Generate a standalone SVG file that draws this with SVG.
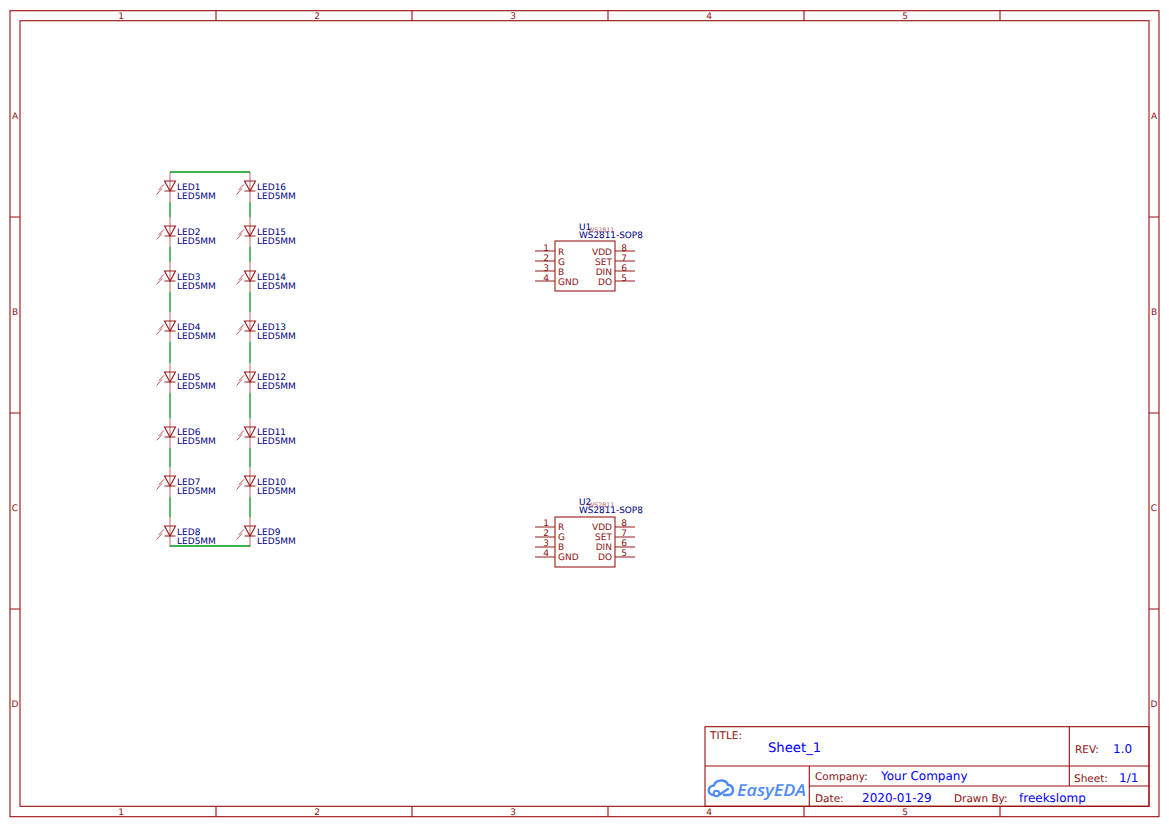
<svg xmlns="http://www.w3.org/2000/svg" width="1169" height="827" viewBox="0 0 1169 827">
<style>
text{font-family:"DejaVu Sans",sans-serif;font-size:9px;text-rendering:geometricPrecision}
.f{fill:none;stroke:#990f0f;stroke-width:1.100}
.s{fill:none;stroke:#991a1a;stroke-width:1.100}
.p{fill:none;stroke:#991a1a;stroke-width:1.100;opacity:.6}
.a{fill:none;stroke:#991a1a;stroke-width:.9;opacity:.85}
.w{fill:none;stroke:#00991a;stroke-width:1.300}
.m{fill:#8b1010}
.n{fill:#000080}
.x{fill:#8b1010;font-size:6.300px;opacity:.7}
.v{fill:#000080;font-size:8.900px}
.b{fill:#0000ff;font-size:12px}
.t{fill:#8b1010;font-size:10.500px}
.e{text-anchor:end}
.c{text-anchor:middle}
</style>
<defs>
<g id="led">
<path class="p" d="M0-15V15"/>
<path class="s" d="M-5.500-6H5.500L0 4ZM-5.500 4H5.500"/>
<path class="a" d="M-13.300 7.300-8 1.500M-11.200 2.800-6-2.700"/>
</g>
<g id="ws">
<rect class="s" x="555" y="241" width="60" height="50"/>
<path class="s" d="M535 251H555M535 261H555M535 271H555M535 281H555M615 251H635M615 261H635M615 271H635M615 281H635"/>
</g>
</defs>

<g id="frame">
<rect class="f" x="10" y="10.700" width="1149" height="806"/>
<rect class="f" x="20" y="20.700" width="1129" height="785.600"/>
<path class="f" d="M216 10.700V20.700M412 10.700V20.700M608 10.700V20.700M804 10.700V20.700M1000 10.700V20.700M216 806.300V816.700M412 806.300V816.700M608 806.300V816.700M804 806.300V816.700M1000 806.300V816.700M10 217H20M10 413H20M10 609H20M1149 217H1159M1149 413H1159M1149 609H1159"/>
<g class="m">
<text class="c" x="121" y="19">1</text><text class="c" x="317" y="19">2</text><text class="c" x="513" y="19">3</text><text class="c" x="709" y="19">4</text><text class="c" x="905" y="19">5</text>
<text class="c" x="121" y="815">1</text><text class="c" x="317" y="815">2</text><text class="c" x="513" y="815">3</text><text class="c" x="709" y="815">4</text><text class="c" x="905" y="815">5</text>
<text class="c" x="15" y="119">A</text><text class="c" x="15" y="315">B</text><text class="c" x="15" y="511">C</text><text class="c" x="15" y="707">D</text>
<text class="c" x="1154" y="119">A</text><text class="c" x="1154" y="315">B</text><text class="c" x="1154" y="511">C</text><text class="c" x="1154" y="707">D</text>
</g>
</g>

<g id="title-block">
<rect class="f" x="705" y="726.700" width="444" height="79.600"/>
<path class="f" d="M705 766H1149M809.300 786H1149M809.300 766V806.300M1069.300 726.700V786"/>
<text class="t" x="710" y="739">TITLE:</text>
<text class="b" style="font-size:13.200px" x="768" y="752">Sheet_1</text>
<text class="t" x="1075" y="753">REV:</text>
<text class="b" x="1113" y="753">1.0</text>
<text class="t" x="815" y="780">Company:</text>
<text class="b" x="881" y="780">Your Company</text>
<text class="t" x="1074" y="781.500">Sheet:</text>
<text class="b" x="1119" y="781.500">1/1</text>
<text class="t" x="815" y="802">Date:</text>
<text class="b" x="862" y="802">2020-01-29</text>
<text class="t" x="954" y="802">Drawn By:</text>
<text class="b" x="1019" y="802">freekslomp</text>
<path fill="none" stroke="#4f8cf5" stroke-width="2.500" stroke-linecap="round" stroke-linejoin="round" d="M714 795C707 795 707 786 714 785.500C716 779 726 779 728 785C734 785 735 794 729 795H724M719 795L728 789"/>
<circle cx="716.500" cy="793.500" r="2.800" fill="none" stroke="#4f8cf5" stroke-width="2"/>
<text x="737" y="796" style="font-family:'Open Sans',sans-serif;font-size:16.500px;font-style:italic;font-weight:600;fill:#4f8cf5" textLength="69" lengthAdjust="spacingAndGlyphs">EasyEDA</text>
</g>

<g id="connectors">
<path class="w" d="M170 172H250M170 546H250M170 202V217M170 247V262M170 292V312M170 342V363M170 393V418M170 448V467M170 497V517M250 202V217M250 247V262M250 292V312M250 342V363M250 393V418M250 448V467M250 497V517"/>
</g>

<g id="LED1"><use href="#led" x="170" y="187"/><text class="n" x="177" y="190">LED1</text><text class="n" x="177" y="199">LED5MM</text></g>
<g id="LED2"><use href="#led" x="170" y="232"/><text class="n" x="177" y="235">LED2</text><text class="n" x="177" y="244">LED5MM</text></g>
<g id="LED3"><use href="#led" x="170" y="277"/><text class="n" x="177" y="280">LED3</text><text class="n" x="177" y="289">LED5MM</text></g>
<g id="LED4"><use href="#led" x="170" y="327"/><text class="n" x="177" y="330">LED4</text><text class="n" x="177" y="339">LED5MM</text></g>
<g id="LED5"><use href="#led" x="170" y="378"/><text class="n" x="177" y="380">LED5</text><text class="n" x="177" y="389">LED5MM</text></g>
<g id="LED6"><use href="#led" x="170" y="433"/><text class="n" x="177" y="435">LED6</text><text class="n" x="177" y="444">LED5MM</text></g>
<g id="LED7"><use href="#led" x="170" y="482"/><text class="n" x="177" y="485">LED7</text><text class="n" x="177" y="494">LED5MM</text></g>
<g id="LED8"><use href="#led" x="170" y="532"/><text class="n" x="177" y="535">LED8</text><text class="n" x="177" y="544">LED5MM</text></g>
<g id="LED16"><use href="#led" x="250" y="187"/><text class="n" x="257" y="190">LED16</text><text class="n" x="257" y="199">LED5MM</text></g>
<g id="LED15"><use href="#led" x="250" y="232"/><text class="n" x="257" y="235">LED15</text><text class="n" x="257" y="244">LED5MM</text></g>
<g id="LED14"><use href="#led" x="250" y="277"/><text class="n" x="257" y="280">LED14</text><text class="n" x="257" y="289">LED5MM</text></g>
<g id="LED13"><use href="#led" x="250" y="327"/><text class="n" x="257" y="330">LED13</text><text class="n" x="257" y="339">LED5MM</text></g>
<g id="LED12"><use href="#led" x="250" y="378"/><text class="n" x="257" y="380">LED12</text><text class="n" x="257" y="389">LED5MM</text></g>
<g id="LED11"><use href="#led" x="250" y="433"/><text class="n" x="257" y="435">LED11</text><text class="n" x="257" y="444">LED5MM</text></g>
<g id="LED10"><use href="#led" x="250" y="482"/><text class="n" x="257" y="485">LED10</text><text class="n" x="257" y="494">LED5MM</text></g>
<g id="LED9"><use href="#led" x="250" y="532"/><text class="n" x="257" y="535">LED9</text><text class="n" x="257" y="544">LED5MM</text></g>

<g id="U1">
<use href="#ws"/>
<text class="n" x="579" y="229.500">U1</text>
<text class="x" x="588" y="232">WS2811</text>
<text class="v" x="579" y="238">WS2811-SOP8</text>
<g class="m">
<text class="c" x="546" y="251">1</text><text class="c" x="546" y="261">2</text><text class="c" x="546" y="271">3</text><text class="c" x="546" y="281">4</text>
<text class="c" x="624" y="251">8</text><text class="c" x="624" y="261">7</text><text class="c" x="624" y="271">6</text><text class="c" x="624" y="281">5</text>
<text x="558" y="254.500">R</text><text x="558" y="264.500">G</text><text x="558" y="274.500">B</text><text x="558" y="284.500">GND</text>
<text class="e" x="612" y="254.500">VDD</text><text class="e" x="612" y="264.500">SET</text><text class="e" x="612" y="274.500">DIN</text><text class="e" x="612" y="284.500">DO</text>
</g>
</g>

<g id="U2" transform="translate(0 275)">
<use href="#ws" y="1"/>
<text class="n" x="579" y="229.500">U2</text>
<text class="x" x="588" y="232">WS2811</text>
<text class="v" x="579" y="238">WS2811-SOP8</text>
<g class="m">
<text class="c" x="546" y="251">1</text><text class="c" x="546" y="261">2</text><text class="c" x="546" y="271">3</text><text class="c" x="546" y="281">4</text>
<text class="c" x="624" y="251">8</text><text class="c" x="624" y="261">7</text><text class="c" x="624" y="271">6</text><text class="c" x="624" y="281">5</text>
<text x="558" y="254.500">R</text><text x="558" y="264.500">G</text><text x="558" y="274.500">B</text><text x="558" y="284.500">GND</text>
<text class="e" x="612" y="254.500">VDD</text><text class="e" x="612" y="264.500">SET</text><text class="e" x="612" y="274.500">DIN</text><text class="e" x="612" y="284.500">DO</text>
</g>
</g>
</svg>
